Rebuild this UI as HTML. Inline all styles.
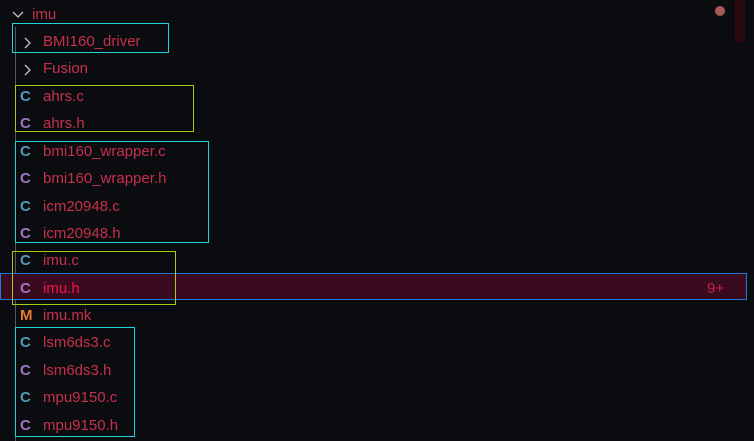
<!DOCTYPE html>
<html><head><meta charset="utf-8"><style>
html,body{margin:0;padding:0;width:754px;height:441px;background:#0b0c10;overflow:hidden;font-family:"Liberation Sans",sans-serif;}
.r{position:absolute;left:0;height:20px;line-height:20px;font-size:15px;color:#c7304d;white-space:nowrap}
.t{position:absolute;left:43px}
.i{position:absolute;left:20px;font-weight:bold;font-size:15px}
.c{color:#519aba}.h{color:#a074c4}.m{color:#e37933}
.ch{position:absolute;left:24px;top:5px}
.b{position:absolute;box-sizing:border-box;border:1px solid}
</style></head><body>
<div style="position:absolute;left:15px;top:27px;width:1px;height:414px;background:#585858"></div>
<div style="position:absolute;left:0;top:273px;width:747px;height:27px;background:#3a0b1f;border:1px solid #1f7ad6;box-sizing:border-box"></div>
<div style="position:absolute;left:735px;top:0;width:10px;height:42px;background:#2a0a0e"></div>
<div style="position:absolute;left:715px;top:6px;width:10px;height:10px;border-radius:50%;background:#a55a52"></div>
<div class="r" style="top:5px"><svg style="position:absolute;left:12px;top:6px" width="12" height="8"><polyline points="1,1 6,6 11,1" fill="none" stroke="#c5c5c5" stroke-width="1.3"/></svg><span class="t" style="left:32px">imu</span></div>
<div class="r" style="top:32px"><svg class="ch" width="8" height="12"><polyline points="1,1 6,6 1,11" fill="none" stroke="#c5c5c5" stroke-width="1.3"/></svg><span class="t">BMI160_driver</span></div>
<div class="r" style="top:59px"><svg class="ch" width="8" height="12"><polyline points="1,1 6,6 1,11" fill="none" stroke="#c5c5c5" stroke-width="1.3"/></svg><span class="t">Fusion</span></div>
<div class="r" style="top:87px"><span class="i c">C</span><span class="t">ahrs.c</span></div>
<div class="r" style="top:114px"><span class="i h">C</span><span class="t">ahrs.h</span></div>
<div class="r" style="top:142px"><span class="i c">C</span><span class="t">bmi160_wrapper.c</span></div>
<div class="r" style="top:169px"><span class="i h">C</span><span class="t">bmi160_wrapper.h</span></div>
<div class="r" style="top:197px"><span class="i c">C</span><span class="t">icm20948.c</span></div>
<div class="r" style="top:224px"><span class="i h">C</span><span class="t">icm20948.h</span></div>
<div class="r" style="top:251px"><span class="i c">C</span><span class="t">imu.c</span></div>
<div class="r" style="top:279px;width:754px"><span class="i h">C</span><span class="t" style="color:#f0144a">imu.h</span><span style="position:absolute;left:707px;color:#c7204d">9+</span></div>
<div class="r" style="top:306px"><span class="i m">M</span><span class="t">imu.mk</span></div>
<div class="r" style="top:333px"><span class="i c">C</span><span class="t">lsm6ds3.c</span></div>
<div class="r" style="top:361px"><span class="i h">C</span><span class="t">lsm6ds3.h</span></div>
<div class="r" style="top:388px"><span class="i c">C</span><span class="t">mpu9150.c</span></div>
<div class="r" style="top:416px"><span class="i h">C</span><span class="t">mpu9150.h</span></div>
<div class="b" style="left:12px;top:23px;width:157px;height:30px;border-color:#22d3d8"></div>
<div class="b" style="left:15px;top:85px;width:179px;height:47px;border-color:#a6cc19"></div>
<div class="b" style="left:15px;top:141px;width:194px;height:102px;border-color:#22d3d8"></div>
<div class="b" style="left:12px;top:251px;width:164px;height:54px;border-color:#a6cc19"></div>
<div class="b" style="left:15px;top:327px;width:120px;height:110px;border-color:#22d3d8"></div>
</body></html>
